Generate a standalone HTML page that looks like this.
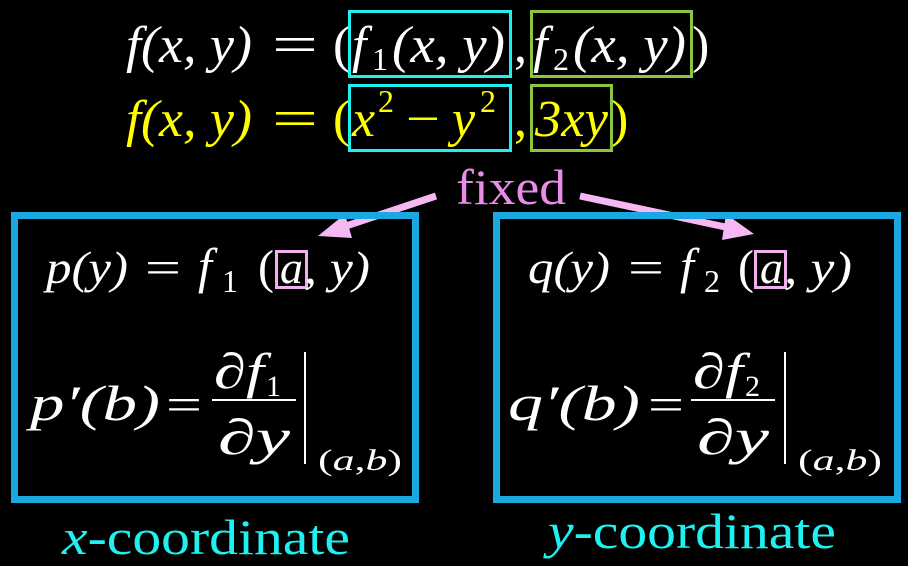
<!DOCTYPE html>
<html><head><meta charset="utf-8"><style>
body{margin:0;width:908px;height:566px;background:#000;overflow:hidden}
text{font-family:"Liberation Serif",serif}
.i{font-style:italic}
</style></head><body>
<svg width="908" height="566" style="position:absolute;left:0;top:0">
<g fill="#fff" font-size="52">
<text x="126" y="62" textLength="126" lengthAdjust="spacingAndGlyphs" class="i">f(x, y)</text>
<text x="272" y="62" textLength="46" lengthAdjust="spacingAndGlyphs">=</text>
<text x="333" y="62">(</text>
<text x="352" y="62" class="i">f</text>
<text x="372" y="70" font-size="32">1</text>
<text x="392" y="62" textLength="113" lengthAdjust="spacingAndGlyphs" class="i">(x, y)</text>
<text x="514" y="62">,</text>
<text x="533" y="62" class="i">f</text>
<text x="553" y="70" font-size="32">2</text>
<text x="573" y="62" textLength="113" lengthAdjust="spacingAndGlyphs" class="i">(x, y)</text>
<text x="692" y="62">)</text>
</g>
<g fill="#ffff00" font-size="52">
<text x="126" y="136" textLength="126" lengthAdjust="spacingAndGlyphs" class="i">f(x, y)</text>
<text x="272" y="136" textLength="46" lengthAdjust="spacingAndGlyphs">=</text>
<text x="333" y="136">(</text>
<text x="352" y="136" class="i">x</text>
<text x="378" y="112" font-size="32">2</text>
<text x="406" y="136" textLength="34" lengthAdjust="spacingAndGlyphs">−</text>
<text x="452" y="136" class="i">y</text>
<text x="480" y="112" font-size="32">2</text>
<text x="514" y="136">,</text>
<text x="535" y="136" textLength="73" lengthAdjust="spacingAndGlyphs" class="i">3xy</text>
<text x="611" y="136">)</text>
</g>
<text x="456" y="204" font-size="50" fill="#e88de8" textLength="110" lengthAdjust="spacingAndGlyphs">fixed</text>
<line x1="436" y1="196" x2="340" y2="228" stroke="#f5b8f5" stroke-width="7"/>
<polygon points="318,236 345,214 352,238" fill="#f5b8f5"/>
<line x1="580" y1="196" x2="730" y2="228" stroke="#f5b8f5" stroke-width="7"/>
<polygon points="754,234 726,214 722,240" fill="#f5b8f5"/>
<g fill="none" stroke-width="3">
<rect x="349.5" y="11.5" width="161" height="65" stroke="#1ff0f0"/>
<rect x="531.5" y="11.5" width="160" height="65" stroke="#8cc63f"/>
<rect x="349.5" y="85.5" width="161" height="65" stroke="#1ff0f0"/>
<rect x="531.5" y="85.5" width="80" height="65" stroke="#8cc63f"/>
<rect x="14.5" y="215.5" width="401" height="284" stroke="#1ba8e0" stroke-width="7"/>
<rect x="496.5" y="215.5" width="401" height="284" stroke="#1ba8e0" stroke-width="7"/>
<rect x="276.5" y="251.5" width="30" height="36" stroke="#f0b0f0"/>
<rect x="755.5" y="251.5" width="30" height="36" stroke="#f0b0f0"/>
</g>
<g fill="#fff" font-size="46">
<text x="46" y="283" textLength="82" lengthAdjust="spacingAndGlyphs" class="i">p(y)</text>
<text x="145" y="283" textLength="36" lengthAdjust="spacingAndGlyphs">=</text>
<text x="198" y="283" font-size="50" class="i">f</text>
<text x="222" y="292" font-size="32">1</text>
<text x="258" y="283" font-size="48">(</text>
<text x="280" y="283" class="i">a</text>
<text x="304" y="283" textLength="66" lengthAdjust="spacingAndGlyphs" class="i">, y)</text>

<text x="528" y="283" textLength="82" lengthAdjust="spacingAndGlyphs" class="i">q(y)</text>
<text x="628" y="283" textLength="36" lengthAdjust="spacingAndGlyphs">=</text>
<text x="680" y="283" font-size="50" class="i">f</text>
<text x="704" y="292" font-size="32">2</text>
<text x="738" y="283" font-size="48">(</text>
<text x="760" y="283" class="i">a</text>
<text x="784" y="283" textLength="68" lengthAdjust="spacingAndGlyphs" class="i">, y)</text>

<text x="30" y="420" font-size="50" textLength="130" lengthAdjust="spacingAndGlyphs" class="i">p′(b)</text>
<text x="166" y="420" textLength="36" lengthAdjust="spacingAndGlyphs">=</text>
<text x="214" y="388" font-size="50" textLength="50" lengthAdjust="spacingAndGlyphs" class="i">∂f</text>
<text x="266" y="396" font-size="30">1</text>
<text x="218" y="454" font-size="50" textLength="72" lengthAdjust="spacingAndGlyphs" class="i">∂y</text>
<text x="318" y="470" font-size="30" textLength="84" lengthAdjust="spacingAndGlyphs">(<tspan class="i">a</tspan>,<tspan class="i">b</tspan>)</text>

<text x="508" y="420" font-size="50" textLength="132" lengthAdjust="spacingAndGlyphs" class="i">q′(b)</text>
<text x="648" y="420" textLength="36" lengthAdjust="spacingAndGlyphs">=</text>
<text x="693" y="388" font-size="50" textLength="50" lengthAdjust="spacingAndGlyphs" class="i">∂f</text>
<text x="745" y="396" font-size="30">2</text>
<text x="697" y="454" font-size="50" textLength="72" lengthAdjust="spacingAndGlyphs" class="i">∂y</text>
<text x="798" y="470" font-size="30" textLength="84" lengthAdjust="spacingAndGlyphs">(<tspan class="i">a</tspan>,<tspan class="i">b</tspan>)</text>
</g>
<rect x="212" y="399" width="84" height="2" fill="#fff"/>
<rect x="304" y="352" width="2" height="112" fill="#fff"/>
<rect x="691" y="399" width="84" height="2" fill="#fff"/>
<rect x="784" y="352" width="2" height="112" fill="#fff"/>
<text x="62" y="554" font-size="50" fill="#1ff0f0" textLength="288" lengthAdjust="spacingAndGlyphs"><tspan class="i">x</tspan>-coordinate</text>
<text x="548" y="548" font-size="50" fill="#1ff0f0" textLength="288" lengthAdjust="spacingAndGlyphs"><tspan class="i">y</tspan>-coordinate</text>
</svg>
</body></html>
